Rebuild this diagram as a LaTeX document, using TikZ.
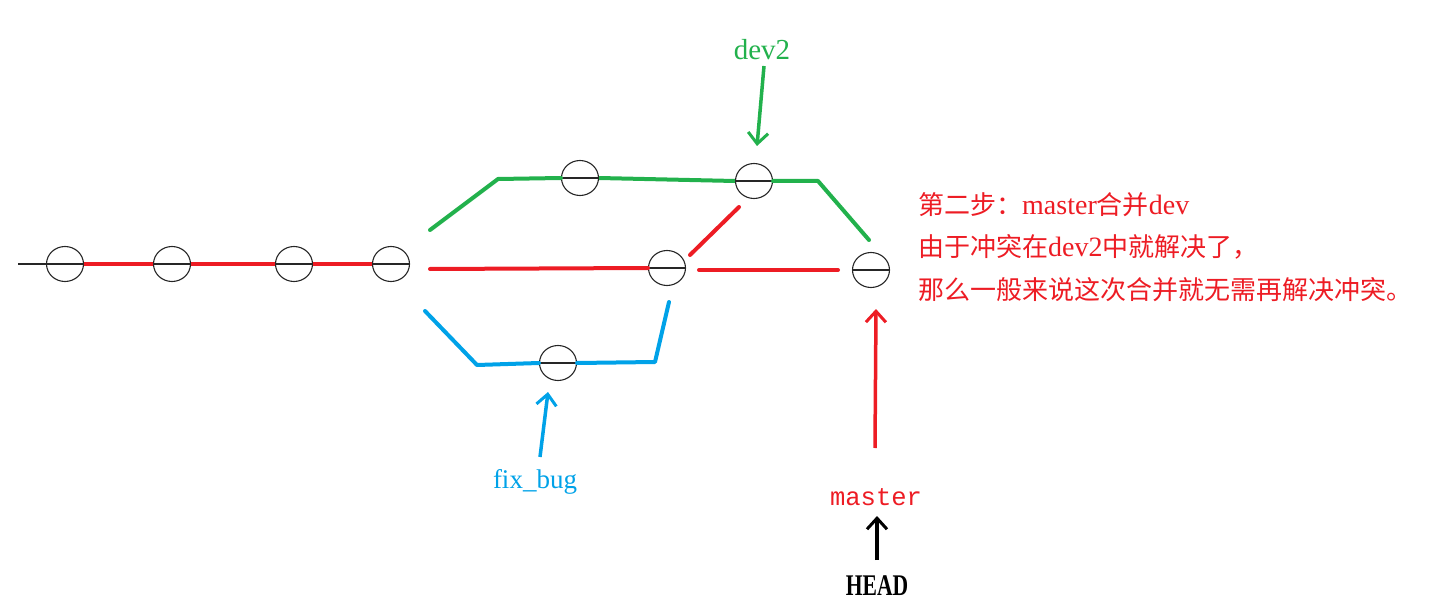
\documentclass[tikz,border=0pt]{standalone}
\usepackage{fontspec}
\usepackage{graphicx}
\setmainfont{Liberation Serif}
\newfontfamily\cjk{Noto Sans CJK SC}
\newfontfamily\monof{Liberation Mono}
\usetikzlibrary{arrows.meta,shapes.geometric}
\definecolor{pred}{RGB}{237,28,36}
\definecolor{pgreen}{RGB}{34,177,76}
\definecolor{pblue}{RGB}{0,162,232}
\newcommand{\lat}[1]{{\fontsize{28}{30}\selectfont #1}}
\tikzset{
  commit/.style={ellipse, draw=black!85, line width=1.1pt, minimum width=37pt, minimum height=35pt, inner sep=0pt,
    path picture={\draw[black!85, line width=1.1pt] (path picture bounding box.west) -- (path picture bounding box.east);}},
  branch/.style={line width=4pt, line cap=round, line join=round},
  ptr/.style={line width=3.5pt, -{Straight Barb[length=11pt,width=20pt,line width=3pt]}},
  note/.style={anchor=west, inner sep=0pt, text=pred, font=\fontsize{26}{30}\selectfont}
}
\begin{document}
\begin{tikzpicture}[x=1pt,y=-1pt]
\useasboundingbox (0,0) rectangle (1444,615);
% commits
\node[commit] (c1) at (65,264) {};
\node[commit] (c2) at (172,264) {};
\node[commit] (c3) at (294,264) {};
\node[commit] (c4) at (391,264) {};
\node[commit] (c5) at (667,268) {};
\node[commit] (c6) at (871,270) {};
\node[commit] (c7) at (580,178) {};
\node[commit] (c8) at (754,181) {};
\node[commit] (c9) at (558,363) {};
% free points
\coordinate (s0) at (18,264);
\coordinate (g0) at (430,230);
\coordinate (g1) at (498,179);
\coordinate (g2) at (818,181);
\coordinate (g3) at (869,240);
\coordinate (r1) at (690,255);
\coordinate (r2) at (739,207);
\coordinate (r3) at (430,269);
\coordinate (r4) at (699,270);
\coordinate (r5) at (838,270);
\coordinate (b0) at (425,311);
\coordinate (b1) at (477,365);
\coordinate (b2) at (655,362);
\coordinate (b3) at (669,302);
% main line
\draw[black!85, line width=1.1pt] (s0) -- (c1.west);
\draw[branch, pred, line cap=butt] (c1.east) -- (c2.west);
\draw[branch, pred, line cap=butt] (c2.east) -- (c3.west);
\draw[branch, pred, line cap=butt] (c3.east) -- (c4.west);
\draw[branch, pred] (r3) -- (c5.west);
\draw[branch, pred] (r4) -- (r5);
\draw[branch, pred] (r1) -- (r2);
% green
\draw[branch, pgreen] (g0) -- (g1) -- (c7.west);
\draw[branch, pgreen, line cap=butt] (c7.east) -- (c8.west);
\draw[branch, pgreen] (c8.east) -- (g2) -- (g3);
% blue
\draw[branch, pblue] (b0) -- (b1) -- (c9.west);
\draw[branch, pblue] (c9.east) -- (b2) -- (b3);
% labels and pointers
\node[text=pgreen, font=\fontsize{29}{32}\selectfont, inner sep=0pt] (dev2) at (762,50) {dev2};
\coordinate (d1) at (764,66);
\coordinate (d2) at (757,146);
\draw[ptr, pgreen] (d1) -- (d2);
\node[text=pblue, font=\fontsize{27}{30}\selectfont, inner sep=0pt] (fix) at (535,482) {fix\_bug};
\coordinate (f1) at (540,457);
\coordinate (f2) at (548,392);
\draw[ptr, pblue] (f1) -- (f2);
\node[text=pred, font=\monof\fontsize{25.5}{30}\selectfont, inner sep=0pt] (master) at (876,497) {master};
\coordinate (m1) at (875,448);
\coordinate (m2) at (876,309);
\draw[ptr, pred] (m1) -- (m2);
\node[text=black, font=\bfseries\fontsize{30}{32}\selectfont, inner sep=0pt] (head) at (877,586) {\scalebox{0.72}[1]{HEAD}};
\coordinate (h1) at (877,560);
\coordinate (h2) at (877,516);
\draw[ptr, black] (h1) -- (h2);
% notes
\node[note] (t1) at (918,205) {{\cjk 第二步：}\lat{master}{\cjk 合并}\lat{dev}};
\node[note] (t2) at (918,247) {{\cjk 由于冲突在}\lat{dev2}{\cjk 中就解决了，}};
\node[note] (t3) at (918,290) {{\cjk 那么一般来说这次合并就无需再解决冲突。}};
\end{tikzpicture}
\end{document}
